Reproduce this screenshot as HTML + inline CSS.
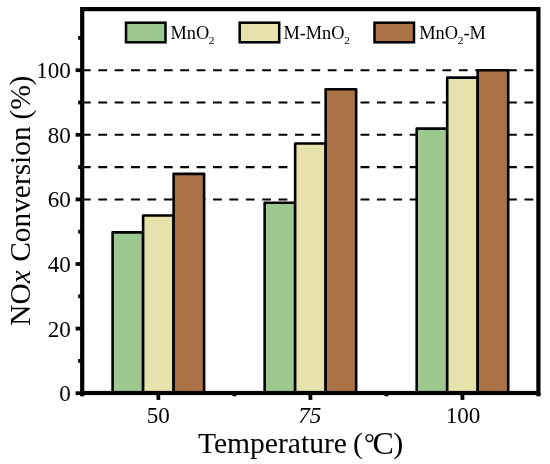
<!DOCTYPE html><html><head><meta charset="utf-8"><title>NOx Conversion</title>
<style>html,body{margin:0;padding:0;background:#fff;}svg{display:block;}text{font-family:"Liberation Serif","Noto Serif CJK SC",serif;fill:#000;}</style></head><body>
<svg width="550" height="464" viewBox="0 0 550 464">
<rect width="550" height="464" fill="#fff"/>
<line x1="81.9" x2="538.4" y1="199.40" y2="199.40" stroke="#000" stroke-width="2.05" stroke-dasharray="8.8 7.59"/>
<line x1="81.9" x2="538.4" y1="167.10" y2="167.10" stroke="#000" stroke-width="2.05" stroke-dasharray="8.8 7.59"/>
<line x1="81.9" x2="538.4" y1="134.80" y2="134.80" stroke="#000" stroke-width="2.05" stroke-dasharray="8.8 7.59"/>
<line x1="81.9" x2="538.4" y1="102.50" y2="102.50" stroke="#000" stroke-width="2.05" stroke-dasharray="8.8 7.59"/>
<line x1="81.9" x2="538.4" y1="70.20" y2="70.20" stroke="#000" stroke-width="2.05" stroke-dasharray="8.8 7.59"/>
<rect x="112.60" y="232.35" width="30.5" height="160.65" fill="#9dc890" stroke="#000" stroke-width="2.6" stroke-linejoin="round"/>
<rect x="143.10" y="215.55" width="30.5" height="177.45" fill="#e7e2ab" stroke="#000" stroke-width="2.6" stroke-linejoin="round"/>
<rect x="173.60" y="173.88" width="30.5" height="219.12" fill="#aa7144" stroke="#000" stroke-width="2.6" stroke-linejoin="round"/>
<rect x="264.65" y="202.79" width="30.5" height="190.21" fill="#9dc890" stroke="#000" stroke-width="2.6" stroke-linejoin="round"/>
<rect x="295.15" y="143.52" width="30.5" height="249.48" fill="#e7e2ab" stroke="#000" stroke-width="2.6" stroke-linejoin="round"/>
<rect x="325.65" y="89.26" width="30.5" height="303.74" fill="#aa7144" stroke="#000" stroke-width="2.6" stroke-linejoin="round"/>
<rect x="416.70" y="128.66" width="30.5" height="264.34" fill="#9dc890" stroke="#000" stroke-width="2.6" stroke-linejoin="round"/>
<rect x="447.20" y="77.63" width="30.5" height="315.37" fill="#e7e2ab" stroke="#000" stroke-width="2.6" stroke-linejoin="round"/>
<rect x="477.70" y="70.20" width="30.5" height="322.80" fill="#aa7144" stroke="#000" stroke-width="2.6" stroke-linejoin="round"/>
<line x1="75.6" x2="82.2" y1="393.20" y2="393.20" stroke="#000" stroke-width="3.8"/>
<line x1="78.2" x2="82.2" y1="360.90" y2="360.90" stroke="#000" stroke-width="3.8"/>
<line x1="75.6" x2="82.2" y1="328.60" y2="328.60" stroke="#000" stroke-width="3.8"/>
<line x1="78.2" x2="82.2" y1="296.30" y2="296.30" stroke="#000" stroke-width="3.8"/>
<line x1="75.6" x2="82.2" y1="264.00" y2="264.00" stroke="#000" stroke-width="3.8"/>
<line x1="78.2" x2="82.2" y1="231.70" y2="231.70" stroke="#000" stroke-width="3.8"/>
<line x1="75.6" x2="82.2" y1="199.40" y2="199.40" stroke="#000" stroke-width="3.8"/>
<line x1="78.2" x2="82.2" y1="167.10" y2="167.10" stroke="#000" stroke-width="3.8"/>
<line x1="75.6" x2="82.2" y1="134.80" y2="134.80" stroke="#000" stroke-width="3.8"/>
<line x1="78.2" x2="82.2" y1="102.50" y2="102.50" stroke="#000" stroke-width="3.8"/>
<line x1="75.6" x2="82.2" y1="70.20" y2="70.20" stroke="#000" stroke-width="3.8"/>
<line x1="78.2" x2="82.2" y1="37.90" y2="37.90" stroke="#000" stroke-width="3.8"/>
<line x1="158.35" x2="158.35" y1="393.0" y2="399.9" stroke="#000" stroke-width="3.8"/>
<line x1="310.4" x2="310.4" y1="393.0" y2="399.9" stroke="#000" stroke-width="3.8"/>
<line x1="462.45" x2="462.45" y1="393.0" y2="399.9" stroke="#000" stroke-width="3.8"/>
<line x1="234.4" x2="234.4" y1="393.0" y2="396.3" stroke="#000" stroke-width="3.8"/>
<line x1="386.4" x2="386.4" y1="393.0" y2="396.3" stroke="#000" stroke-width="3.8"/>
<rect x="82.2" y="9.1" width="456.20" height="383.90" fill="none" stroke="#000" stroke-width="4.2"/>
<line x1="82.2" x2="82.2" y1="393.0" y2="396.3" stroke="#000" stroke-width="4.2"/>
<line x1="538.4" x2="538.4" y1="393.0" y2="396.3" stroke="#000" stroke-width="4.2"/>
<text transform="translate(70.9,401.1) scale(0.97,1)" font-size="23.8" text-anchor="end">0</text>
<text transform="translate(70.9,336.5) scale(0.97,1)" font-size="23.8" text-anchor="end">20</text>
<text transform="translate(70.9,271.9) scale(0.97,1)" font-size="23.8" text-anchor="end">40</text>
<text transform="translate(70.9,207.3) scale(0.97,1)" font-size="23.8" text-anchor="end">60</text>
<text transform="translate(70.9,142.7) scale(0.97,1)" font-size="23.8" text-anchor="end">80</text>
<text transform="translate(70.9,78.1) scale(0.97,1)" font-size="23.8" text-anchor="end">100</text>
<text transform="translate(158.35,422.7) scale(0.97,1)" font-size="23.8" text-anchor="middle">50</text>
<text transform="translate(309.7,422.7) scale(0.97,1)" font-size="23.8" text-anchor="middle" font-style="italic">75</text>
<text transform="translate(462.95,422.7) scale(0.97,1)" font-size="23.8" text-anchor="middle">100</text>
<text font-size="29.6"><tspan x="197.9" y="452.8">Temperature </tspan><tspan x="352.9" y="452.8" font-size="30">(</tspan><tspan x="364.0" y="452.3" font-size="27">°</tspan><tspan x="372.6" y="453.8" font-size="32">C</tspan><tspan x="393.3" y="452.8" font-size="30">)</tspan></text>
<text transform="translate(30.3,325.7) rotate(-90)" font-size="29.4" text-anchor="start" word-spacing="1.0">NO<tspan font-style="italic">x</tspan> Conversion</text>
<text transform="translate(30.0,75.6) rotate(-90)" font-size="29.6" text-anchor="end"><tspan letter-spacing="-0.3">(%</tspan>)</text>
<rect x="126" y="22.7" width="39.5" height="19.6" fill="#9dc890" stroke="#000" stroke-width="2.5"/>
<rect x="239.7" y="22.7" width="39.5" height="19.6" fill="#e7e2ab" stroke="#000" stroke-width="2.5"/>
<rect x="374.5" y="22.7" width="39.5" height="19.6" fill="#aa7144" stroke="#000" stroke-width="2.5"/>
<text transform="translate(170.4,38.6) scale(1.033,1)" font-size="17.8" text-anchor="start">MnO<tspan font-size="11" dy="5.3" dx="-0.3">2</tspan></text>
<text transform="translate(283.4,38.6) scale(1.03,1)" font-size="17.8" text-anchor="start">M-MnO<tspan font-size="11" dy="5.3" dx="-0.3">2</tspan></text>
<text transform="translate(419.2,38.6) scale(1.035,1)" font-size="17.8" text-anchor="start">MnO<tspan font-size="11" dy="5.3" dx="-0.3">2</tspan><tspan dy="-5.3">-M</tspan></text>
</svg></body></html>
